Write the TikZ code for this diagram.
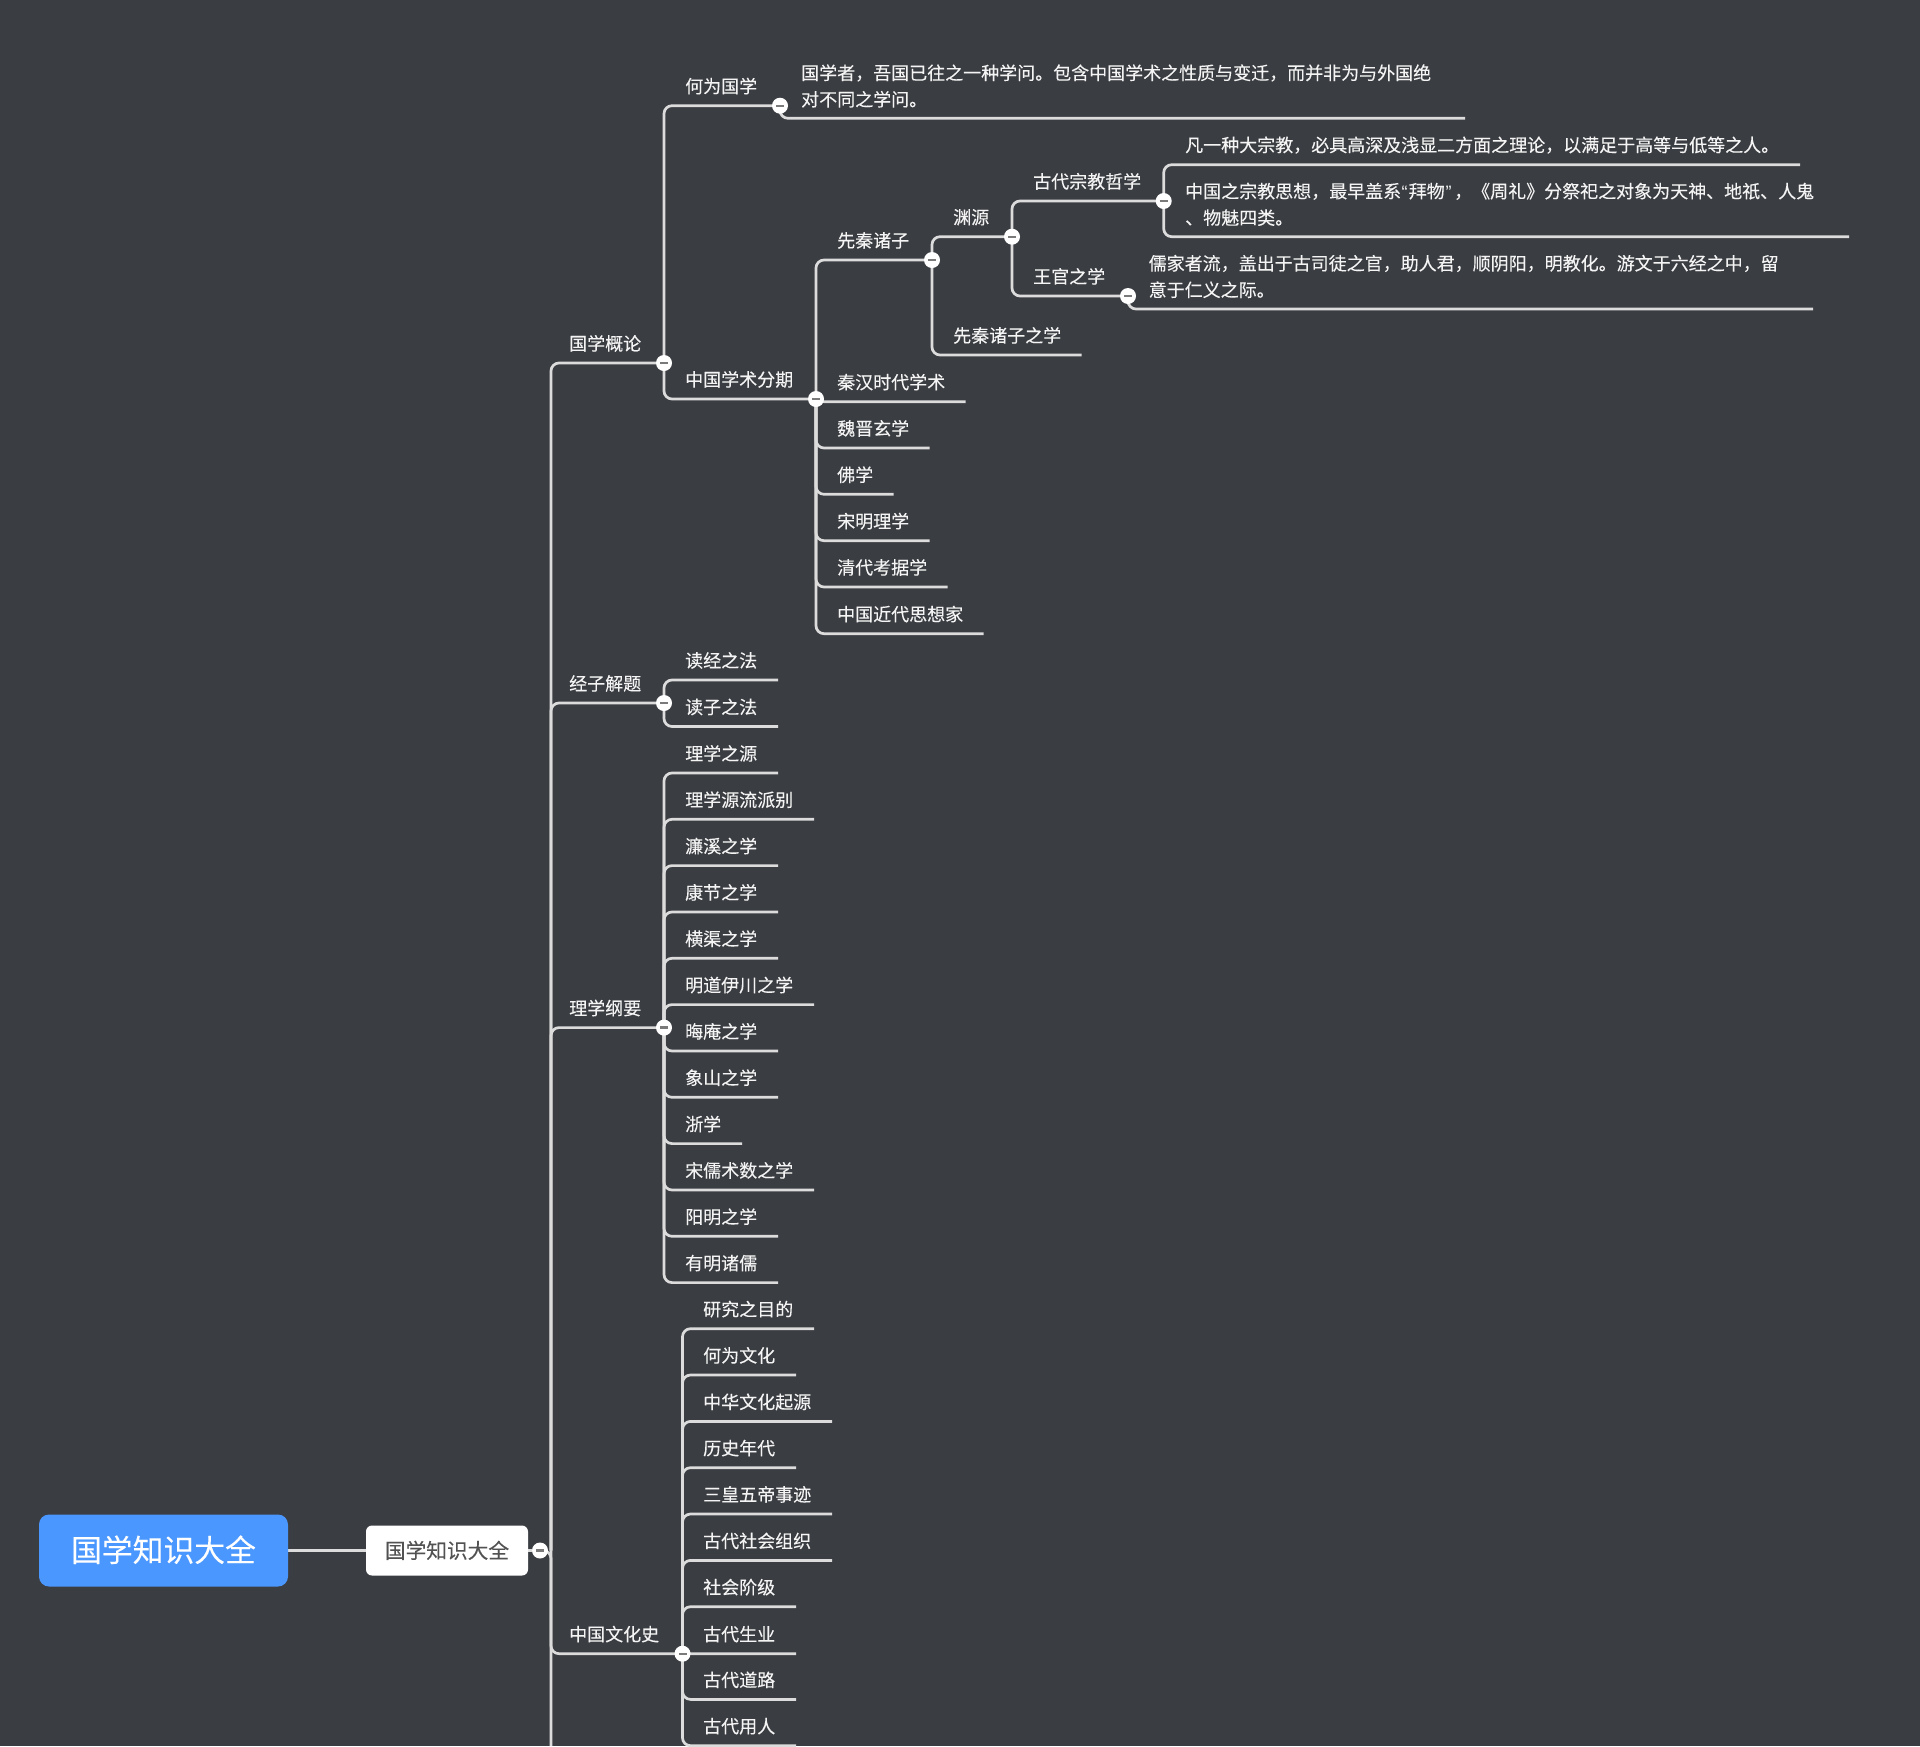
\documentclass[tikz,border=0pt]{standalone}
\usepackage{fontspec}
\setmainfont{Noto Sans CJK SC}[FakeBold=0.12]
\newfontfamily\qfont{Liberation Sans}
\pgfdeclarelayer{bg}
\pgfsetlayers{bg,main}
\definecolor{pagebg}{HTML}{3A3D42}
\definecolor{linkc}{HTML}{DCDCDC}
\definecolor{rootc}{HTML}{4A97FF}
\definecolor{txtc}{HTML}{F4F4F4}
\definecolor{dashc}{HTML}{7A7A7A}
\tikzset{
  lab/.style={anchor=west,inner sep=0pt,text=txtc,font=\fontsize{18}{26.5}\selectfont,text height=15.8pt,text depth=2.2pt},
  desc/.style={anchor=west,inner sep=0pt,text=txtc,align=left,font=\fontsize{18}{26.5}\selectfont},
  collapse/.style={circle,fill=white,minimum size=16pt,inner sep=0pt,text=dashc},
  link/.style={draw=linkc,line width=2.7pt,rounded corners=8pt},
  rootbox/.style={rounded corners=10pt,fill=rootc,minimum width=249pt,minimum height=72pt,inner sep=0pt,text=white,font=\fontsize{30.8}{36}\selectfont},
  subbox/.style={rounded corners=6pt,fill=white,minimum width=162pt,minimum height=50pt,inner sep=0pt,text=black!68,font=\fontsize{20.7}{25}\selectfont},
}
\newcommand{\minusmark}{\rule{8pt}{2.4pt}}
% leaf: name, parent, text x, line y, end x, text
\newcommand{\leaf}[6]{%
  \node[lab] (#1) at (#3,#4-19.5) {#6};
  \coordinate (#1-e) at (#5,#4);
  \begin{pgfonlayer}{bg}\draw[link] (#2) |- (#1-e);\end{pgfonlayer}}
% inner: name, parent, text x, line y, circle x, text
\newcommand{\inner}[6]{%
  \node[lab] (#1-t) at (#3,#4-19.5) {#6};
  \node[collapse] (#1) at (#5,#4) {\minusmark};
  \begin{pgfonlayer}{bg}\draw[link] (#2) |- (#1.center);\end{pgfonlayer}}
\begin{document}
\begin{tikzpicture}[x=1pt,y=-1pt]
\useasboundingbox (0,0) rectangle (1920,1746);
\begin{pgfonlayer}{bg}\fill[pagebg] (0,0) rectangle (1920,1746);\end{pgfonlayer}

\node[rootbox] (root) at (163.5,1550.5) {\raisebox{4pt}{国学知识大全}};
\node[subbox] (sub) at (447,1550.5) {\raisebox{2pt}{国学知识大全}};
\node[collapse] (subc) at (540,1550.5) {\minusmark};
\coordinate (trunk) at (551,1550.5);
\coordinate (trunkend) at (551,1746);
\begin{pgfonlayer}{bg}
\draw[link] (root) -- (sub);
\draw[link] (sub) -- (subc);
\draw[link] (subc.center) -- (trunk) -- (trunkend);
\end{pgfonlayer}

% 国学概论
\inner{gxgl}{trunk}{569}{363}{664}{国学概论}
\inner{hwgx}{gxgl.center}{685}{105.7}{780}{何为国学}
\node[desc] (hwgxd) at (801,86) {国学者，吾国已往之一种学问。包含中国学术之性质与变迁，而并非为与外国绝\\对不同之学问。};
\coordinate (hwgxe) at (1465,118.3);
\begin{pgfonlayer}{bg}\draw[link] (hwgx.center) |- (hwgxe);\end{pgfonlayer}
\inner{zgxs}{gxgl.center}{685}{399}{816}{中国学术分期}
\inner{xqzz}{zgxs.center}{837}{260}{932}{先秦诸子}
\inner{yy}{xqzz.center}{953}{236.7}{1012}{渊源}
\inner{gdzj}{yy.center}{1033}{201}{1163.7}{古代宗教哲学}
\node[lab] (fyz) at (1185,145) {凡一种大宗教，必具高深及浅显二方面之理论，以满足于高等与低等之人。};
\coordinate (fyze) at (1800,164.7);
\node[desc] (zgzj) at (1185,204.3) {中国之宗教思想，最早盖系\kern0.5pt{\qfont “}\kern1pt拜物\kern1pt{\qfont ”}\kern2.5pt，《周礼》分祭祀之对象为天神、地祇、人鬼\\、物魅四类。};
\coordinate (zgzje) at (1849,236.7);
\begin{pgfonlayer}{bg}
\draw[link] (gdzj.center) |- (fyze);
\draw[link] (gdzj.center) |- (zgzje);
\end{pgfonlayer}
\inner{wgzx}{yy.center}{1033}{296}{1128}{王官之学}
\node[desc] (rjzl) at (1148.5,276.5) {儒家者流，盖出于古司徒之官，助人君，顺阴阳，明教化。游文于六经之中，留\\意于仁义之际。};
\coordinate (rjzle) at (1813,309);
\begin{pgfonlayer}{bg}\draw[link] (wgzx.center) |- (rjzle);\end{pgfonlayer}
\leaf{xqzzx}{xqzz.center}{953}{355}{1081.5}{先秦诸子之学}
\leaf{qhsd}{zgxs.center}{837}{401.7}{965.7}{秦汉时代学术}
\leaf{wjxx}{zgxs.center}{837}{448}{929.7}{魏晋玄学}
\leaf{fx}{zgxs.center}{837}{494.3}{893.7}{佛学}
\leaf{smlx}{zgxs.center}{837}{540.7}{929.7}{宋明理学}
\leaf{qdkj}{zgxs.center}{837}{587}{947.7}{清代考据学}
\leaf{zgjd}{zgxs.center}{837}{633.7}{983.7}{中国近代思想家}

% 经子解题
\inner{jzjt}{trunk}{569}{703}{664}{经子解题}
\leaf{djzf}{jzjt.center}{685}{680}{778}{读经之法}
\leaf{dzzf}{jzjt.center}{685}{726.5}{778}{读子之法}

% 理学纲要
\inner{lxgy}{trunk}{569}{1027.6}{664}{理学纲要}
\leaf{lx1}{lxgy.center}{685}{773}{778}{理学之源}
\leaf{lx2}{lxgy.center}{685}{819.3}{814}{理学源流派别}
\leaf{lx3}{lxgy.center}{685}{865.6}{778}{濂溪之学}
\leaf{lx4}{lxgy.center}{685}{912}{778}{康节之学}
\leaf{lx5}{lxgy.center}{685}{958.3}{778}{横渠之学}
\leaf{lx6}{lxgy.center}{685}{1004.6}{814}{明道伊川之学}
\leaf{lx7}{lxgy.center}{685}{1051}{778}{晦庵之学}
\leaf{lx8}{lxgy.center}{685}{1097.3}{778}{象山之学}
\leaf{lx9}{lxgy.center}{685}{1143.6}{742}{浙学}
\leaf{lx10}{lxgy.center}{685}{1190}{814}{宋儒术数之学}
\leaf{lx11}{lxgy.center}{685}{1236.3}{778}{阳明之学}
\leaf{lx12}{lxgy.center}{685}{1282.6}{778}{有明诸儒}

% 中国文化史
\inner{zgwh}{trunk}{569}{1653.7}{682.5}{中国文化史}
\leaf{wh1}{zgwh.center}{703}{1328.7}{814}{研究之目的}
\leaf{wh2}{zgwh.center}{703}{1375}{796}{何为文化}
\leaf{wh3}{zgwh.center}{703}{1421.4}{832}{中华文化起源}
\leaf{wh4}{zgwh.center}{703}{1467.7}{796}{历史年代}
\leaf{wh5}{zgwh.center}{703}{1514}{832}{三皇五帝事迹}
\leaf{wh6}{zgwh.center}{703}{1560.4}{832}{古代社会组织}
\leaf{wh7}{zgwh.center}{703}{1606.7}{796}{社会阶级}
\leaf{wh8}{zgwh.center}{703}{1653.7}{796}{古代生业}
\leaf{wh9}{zgwh.center}{703}{1699.4}{796}{古代道路}
\leaf{wh10}{zgwh.center}{703}{1745.7}{796}{古代用人}
\end{tikzpicture}
\end{document}
